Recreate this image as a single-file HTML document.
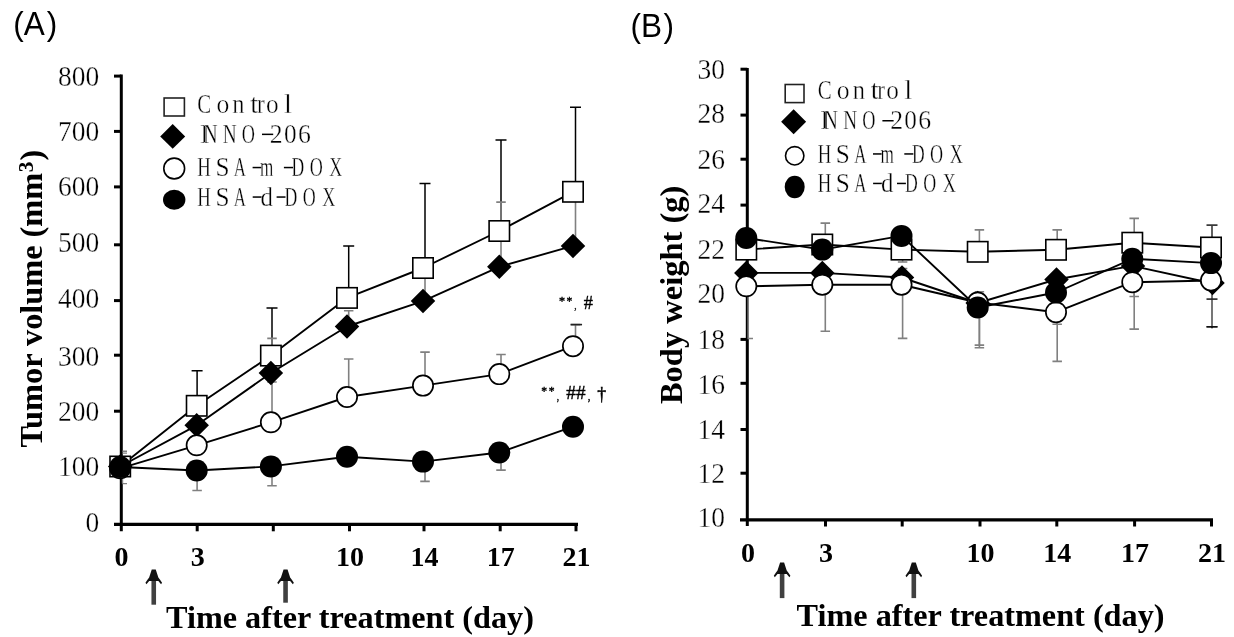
<!DOCTYPE html><html><head><meta charset="utf-8"><style>html,body{margin:0;padding:0;background:#fff;}svg{display:block;will-change:transform;}</style></head><body>
<svg width="1234" height="637" viewBox="0 0 1234 637">
<rect width="1234" height="637" fill="#fff"/>
<text transform="translate(13.2 34.5) scale(1 1.05)" font-family="'Liberation Sans', sans-serif" font-size="31.5" fill="#000">(A<tspan dx="2">)</tspan></text>
<text transform="translate(630.5 36.9) scale(1 1.05)" font-family="'Liberation Sans', sans-serif" font-size="31.5" fill="#000">(B<tspan dx="1.5">)</tspan></text>
<g stroke="#000" fill="none">
<path d="M121.3 74.6V531.3" stroke-width="3"/>
<path d="M114 524.4H578" stroke-width="3.2"/>
<path d="M114 466.5H121.3" stroke-width="3"/>
<path d="M114 411.2H121.3" stroke-width="3"/>
<path d="M114 355.2H121.3" stroke-width="3"/>
<path d="M114 300.6H121.3" stroke-width="3"/>
<path d="M114 244.8H121.3" stroke-width="3"/>
<path d="M114 186.9H121.3" stroke-width="3"/>
<path d="M114 131.4H121.3" stroke-width="3"/>
<path d="M114 76.1H121.3" stroke-width="3"/>
<path d="M197.2 524.4V531.3" stroke-width="3"/>
<path d="M273.3 524.4V531.3" stroke-width="3"/>
<path d="M349.5 524.4V531.3" stroke-width="3"/>
<path d="M424 524.4V531.3" stroke-width="3"/>
<path d="M500.2 524.4V531.3" stroke-width="3"/>
<path d="M576 524.4V531.3" stroke-width="3"/>
</g>
<text transform="translate(99.2 531.6) scale(1 1.055)" text-anchor="end" font-family="'Liberation Serif', serif" font-size="27.5" stroke="#fff" stroke-width="0.3">0</text>
<text transform="translate(99.2 476.3) scale(1 1.055)" text-anchor="end" font-family="'Liberation Serif', serif" font-size="27.5" stroke="#fff" stroke-width="0.3">100</text>
<text transform="translate(99.2 420.95) scale(1 1.055)" text-anchor="end" font-family="'Liberation Serif', serif" font-size="27.5" stroke="#fff" stroke-width="0.3">200</text>
<text transform="translate(99.2 365.5) scale(1 1.055)" text-anchor="end" font-family="'Liberation Serif', serif" font-size="27.5" stroke="#fff" stroke-width="0.3">300</text>
<text transform="translate(99.2 307.55) scale(1 1.055)" text-anchor="end" font-family="'Liberation Serif', serif" font-size="27.5" stroke="#fff" stroke-width="0.3">400</text>
<text transform="translate(99.2 252.25) scale(1 1.055)" text-anchor="end" font-family="'Liberation Serif', serif" font-size="27.5" stroke="#fff" stroke-width="0.3">500</text>
<text transform="translate(99.2 196.25) scale(1 1.055)" text-anchor="end" font-family="'Liberation Serif', serif" font-size="27.5" stroke="#fff" stroke-width="0.3">600</text>
<text transform="translate(99.2 141.4) scale(1 1.055)" text-anchor="end" font-family="'Liberation Serif', serif" font-size="27.5" stroke="#fff" stroke-width="0.3">700</text>
<text transform="translate(99.2 86.05) scale(1 1.055)" text-anchor="end" font-family="'Liberation Serif', serif" font-size="27.5" stroke="#fff" stroke-width="0.3">800</text>
<text x="121.5" y="565.8" text-anchor="middle" font-family="'Liberation Serif', serif" font-weight="bold" font-size="28">0</text>
<text x="197.7" y="565.8" text-anchor="middle" font-family="'Liberation Serif', serif" font-weight="bold" font-size="28">3</text>
<text x="350" y="565.8" text-anchor="middle" font-family="'Liberation Serif', serif" font-weight="bold" font-size="28">10</text>
<text x="424.5" y="565.8" text-anchor="middle" font-family="'Liberation Serif', serif" font-weight="bold" font-size="28">14</text>
<text x="500.7" y="565.8" text-anchor="middle" font-family="'Liberation Serif', serif" font-weight="bold" font-size="28">17</text>
<text x="576.5" y="565.8" text-anchor="middle" font-family="'Liberation Serif', serif" font-weight="bold" font-size="28">21</text>
<text transform="translate(166 628.2) scale(1.008 1)" font-family="'Liberation Serif', serif" font-weight="bold" font-size="32">Time after treatment (day)</text>
<text transform="translate(41.8 447.5) rotate(-90) scale(1.01 1)" font-family="'Liberation Serif', serif" font-weight="bold" font-size="32">Tumor volume (mm<tspan font-size="21" dy="-8.5" dx="0.6">3</tspan><tspan dy="8.5" dx="1.2">)</tspan></text>
<g stroke="#000" fill="none">
<path d="M747.3 68V526" stroke-width="3"/>
<path d="M740 519.8H1213" stroke-width="3.2"/>
<path d="M740.5 473.2H747.3" stroke-width="3"/>
<path d="M740.5 429.5H747.3" stroke-width="3"/>
<path d="M740.5 383.3H747.3" stroke-width="3"/>
<path d="M740.5 339.4H747.3" stroke-width="3"/>
<path d="M740.5 294.3H747.3" stroke-width="3"/>
<path d="M740.5 249.3H747.3" stroke-width="3"/>
<path d="M740.5 205.1H747.3" stroke-width="3"/>
<path d="M740.5 159.2H747.3" stroke-width="3"/>
<path d="M740.5 115.1H747.3" stroke-width="3"/>
<path d="M740.5 69.2H747.3" stroke-width="3"/>
<path d="M825.5 519.8V526.5" stroke-width="3"/>
<path d="M902.2 519.8V526.5" stroke-width="3"/>
<path d="M980 519.8V526.5" stroke-width="3"/>
<path d="M1056.8 519.8V526.5" stroke-width="3"/>
<path d="M1134.6 519.8V526.5" stroke-width="3"/>
<path d="M1211.5 519.8V526.5" stroke-width="3"/>
</g>
<text transform="translate(725 527.05) scale(1 1.055)" text-anchor="end" font-family="'Liberation Serif', serif" font-size="27.5" stroke="#fff" stroke-width="0.3">10</text>
<text transform="translate(725 483.45) scale(1 1.055)" text-anchor="end" font-family="'Liberation Serif', serif" font-size="27.5" stroke="#fff" stroke-width="0.3">12</text>
<text transform="translate(725 439.15) scale(1 1.055)" text-anchor="end" font-family="'Liberation Serif', serif" font-size="27.5" stroke="#fff" stroke-width="0.3">14</text>
<text transform="translate(725 393.65) scale(1 1.055)" text-anchor="end" font-family="'Liberation Serif', serif" font-size="27.5" stroke="#fff" stroke-width="0.3">16</text>
<text transform="translate(725 349.35) scale(1 1.055)" text-anchor="end" font-family="'Liberation Serif', serif" font-size="27.5" stroke="#fff" stroke-width="0.3">18</text>
<text transform="translate(725 303.3) scale(1 1.055)" text-anchor="end" font-family="'Liberation Serif', serif" font-size="27.5" stroke="#fff" stroke-width="0.3">20</text>
<text transform="translate(725 259.15) scale(1 1.055)" text-anchor="end" font-family="'Liberation Serif', serif" font-size="27.5" stroke="#fff" stroke-width="0.3">22</text>
<text transform="translate(725 213.05) scale(1 1.055)" text-anchor="end" font-family="'Liberation Serif', serif" font-size="27.5" stroke="#fff" stroke-width="0.3">24</text>
<text transform="translate(725 169.15) scale(1 1.055)" text-anchor="end" font-family="'Liberation Serif', serif" font-size="27.5" stroke="#fff" stroke-width="0.3">26</text>
<text transform="translate(725 123.05) scale(1 1.055)" text-anchor="end" font-family="'Liberation Serif', serif" font-size="27.5" stroke="#fff" stroke-width="0.3">28</text>
<text transform="translate(725 79.05) scale(1 1.055)" text-anchor="end" font-family="'Liberation Serif', serif" font-size="27.5" stroke="#fff" stroke-width="0.3">30</text>
<text x="747.9" y="561.5" text-anchor="middle" font-family="'Liberation Serif', serif" font-weight="bold" font-size="28">0</text>
<text x="826" y="561.5" text-anchor="middle" font-family="'Liberation Serif', serif" font-weight="bold" font-size="28">3</text>
<text x="980.5" y="561.5" text-anchor="middle" font-family="'Liberation Serif', serif" font-weight="bold" font-size="28">10</text>
<text x="1057.3" y="561.5" text-anchor="middle" font-family="'Liberation Serif', serif" font-weight="bold" font-size="28">14</text>
<text x="1135.1" y="561.5" text-anchor="middle" font-family="'Liberation Serif', serif" font-weight="bold" font-size="28">17</text>
<text x="1212" y="561.5" text-anchor="middle" font-family="'Liberation Serif', serif" font-weight="bold" font-size="28">21</text>
<text transform="translate(796.6 625.9) scale(1.008 1)" font-family="'Liberation Serif', serif" font-weight="bold" font-size="32">Time after treatment (day)</text>
<text transform="translate(682.2 404.1) rotate(-90) scale(1.016 1)" font-family="'Liberation Serif', serif" font-weight="bold" font-size="32">Body weight (g)</text>
<rect x="151.45" y="579" width="4.6" height="25.7" fill="#404040"/><path d="M151.75 569.5L155.75 569.5L158.35 577.5L160.05 579.8L162.05 582.8L161.05 584.2L158.35 581L149.15 581L146.45 584.2L145.45 582.8L147.45 579.8L149.15 577.5Z" fill="#111"/>
<rect x="283.25" y="579" width="4.6" height="23.7" fill="#404040"/><path d="M283.55 569.5L287.55 569.5L290.15 577.5L291.85 579.8L293.85 582.8L292.85 584.2L290.15 581L280.95 581L278.25 584.2L277.25 582.8L279.25 579.8L280.95 577.5Z" fill="#111"/>
<rect x="779.8" y="572" width="4.6" height="26.1" fill="#404040"/><path d="M780.1 562.5L784.1 562.5L786.7 570.5L788.4 572.8L790.4 575.8L789.4 577.2L786.7 574L777.5 574L774.8 577.2L773.8 575.8L775.8 572.8L777.5 570.5Z" fill="#111"/>
<rect x="911.5" y="572" width="4.6" height="26.1" fill="#404040"/><path d="M911.8 562.5L915.8 562.5L918.4 570.5L920.1 572.8L922.1 575.8L921.1 577.2L918.4 574L909.2 574L906.5 577.2L905.5 575.8L907.5 572.8L909.2 570.5Z" fill="#111"/>
<path d="M197.1 405.8V370.7M191.6 370.7H202.6" stroke="#000" stroke-width="1.5" fill="none"/>
<path d="M272 355.6V308.1M266.5 308.1H277.5" stroke="#000" stroke-width="1.5" fill="none"/>
<path d="M348.7 297.9V246.1M343.2 246.1H354.2" stroke="#000" stroke-width="1.5" fill="none"/>
<path d="M425 268V183.5M419.5 183.5H430.5" stroke="#000" stroke-width="1.5" fill="none"/>
<path d="M501 231V139.9M495.5 139.9H506.5" stroke="#000" stroke-width="1.5" fill="none"/>
<path d="M575.5 191.8V107.3M570 107.3H581" stroke="#000" stroke-width="1.5" fill="none"/>
<path d="M122.5 451.3H127M122.5 453.1H127M122.5 483.6H127M122.5 479V483.6" stroke="#808080" stroke-width="1.4" fill="none"/>
<path d="M272 373V338.4M267.25 338.4H276.75" stroke="#808080" stroke-width="1.6" fill="none"/>
<path d="M348.7 326.5V310.7M343.95 310.7H353.45" stroke="#808080" stroke-width="1.6" fill="none"/>
<path d="M425 301.1V275M420.25 275H429.75" stroke="#808080" stroke-width="1.6" fill="none"/>
<path d="M501 266.8V202.1M496.25 202.1H505.75" stroke="#808080" stroke-width="1.6" fill="none"/>
<path d="M575.5 245.9V200M570.75 200H580.25" stroke="#808080" stroke-width="1.6" fill="none"/>
<path d="M272 422.3V382M267.25 382H276.75" stroke="#808080" stroke-width="1.6" fill="none"/>
<path d="M348.7 397V359M343.95 359H353.45" stroke="#808080" stroke-width="1.6" fill="none"/>
<path d="M425 385.6V352.1M420.25 352.1H429.75" stroke="#808080" stroke-width="1.6" fill="none"/>
<path d="M501 374.1V354.5M496.25 354.5H505.75" stroke="#808080" stroke-width="1.6" fill="none"/>
<path d="M575.5 346.2V324.6M570.75 324.6H580.25" stroke="#808080" stroke-width="1.6" fill="none"/>
<path d="M576.3 324.6V324.6M570.55 324.6H582.05" stroke="#222" stroke-width="1.6" fill="none"/>
<path d="M197.1 470.5V490.5M192.35 490.5H201.85" stroke="#808080" stroke-width="1.6" fill="none"/>
<path d="M272 466.4V485.8M267.25 485.8H276.75" stroke="#808080" stroke-width="1.6" fill="none"/>
<path d="M425 461.6V481.4M420.25 481.4H429.75" stroke="#808080" stroke-width="1.6" fill="none"/>
<path d="M501 452.5V470.1M496.25 470.1H505.75" stroke="#808080" stroke-width="1.6" fill="none"/>
<polyline points="120.2,466.5 196.7,405.8 270.9,355.6 347,297.9 423,268 499.3,231 573,191.8" fill="none" stroke="#000" stroke-width="1.9" stroke-linejoin="round"/>
<rect x="110" y="456.3" width="20.4" height="20.4" fill="#fff" stroke="#000" stroke-width="1.6"/>
<rect x="186.5" y="395.6" width="20.4" height="20.4" fill="#fff" stroke="#000" stroke-width="1.6"/>
<rect x="260.7" y="345.4" width="20.4" height="20.4" fill="#fff" stroke="#000" stroke-width="1.6"/>
<rect x="336.8" y="287.7" width="20.4" height="20.4" fill="#fff" stroke="#000" stroke-width="1.6"/>
<rect x="412.8" y="257.8" width="20.4" height="20.4" fill="#fff" stroke="#000" stroke-width="1.6"/>
<rect x="489.1" y="220.8" width="20.4" height="20.4" fill="#fff" stroke="#000" stroke-width="1.6"/>
<rect x="562.8" y="181.6" width="20.4" height="20.4" fill="#fff" stroke="#000" stroke-width="1.6"/>
<polyline points="120.2,466.5 196.7,425.3 270.9,373 347,326.5 423,301.1 499.3,266.8 573,245.9" fill="none" stroke="#000" stroke-width="1.9" stroke-linejoin="round"/>
<path d="M120.2 454.25L132.45 466.5L120.2 478.75L107.95 466.5Z" fill="#000"/>
<path d="M196.7 413.05L208.95 425.3L196.7 437.55L184.45 425.3Z" fill="#000"/>
<path d="M270.9 360.75L283.15 373L270.9 385.25L258.65 373Z" fill="#000"/>
<path d="M347 314.25L359.25 326.5L347 338.75L334.75 326.5Z" fill="#000"/>
<path d="M423 288.85L435.25 301.1L423 313.35L410.75 301.1Z" fill="#000"/>
<path d="M499.3 254.55L511.55 266.8L499.3 279.05L487.05 266.8Z" fill="#000"/>
<path d="M573 233.65L585.25 245.9L573 258.15L560.75 245.9Z" fill="#000"/>
<polyline points="120.2,468.3 196.7,445.3 270.9,422.3 347,397 423,385.6 499.3,374.1 573,346.2" fill="none" stroke="#000" stroke-width="1.9" stroke-linejoin="round"/>
<circle cx="120.2" cy="468.3" r="10.15" fill="#fff" stroke="#000" stroke-width="1.7"/>
<circle cx="196.7" cy="445.3" r="10.15" fill="#fff" stroke="#000" stroke-width="1.7"/>
<circle cx="270.9" cy="422.3" r="10.15" fill="#fff" stroke="#000" stroke-width="1.7"/>
<circle cx="347" cy="397" r="10.15" fill="#fff" stroke="#000" stroke-width="1.7"/>
<circle cx="423" cy="385.6" r="10.15" fill="#fff" stroke="#000" stroke-width="1.7"/>
<circle cx="499.3" cy="374.1" r="10.15" fill="#fff" stroke="#000" stroke-width="1.7"/>
<circle cx="573" cy="346.2" r="10.15" fill="#fff" stroke="#000" stroke-width="1.7"/>
<polyline points="120.2,467 196.7,470.5 270.9,466.4 347,456.8 423,461.6 499.3,452.5 573,426.7" fill="none" stroke="#000" stroke-width="1.9" stroke-linejoin="round"/>
<circle cx="120.2" cy="467" r="11" fill="#000"/>
<circle cx="196.7" cy="470.5" r="11" fill="#000"/>
<circle cx="270.9" cy="466.4" r="11" fill="#000"/>
<circle cx="347" cy="456.8" r="11" fill="#000"/>
<circle cx="423" cy="461.6" r="11" fill="#000"/>
<circle cx="499.3" cy="452.5" r="11" fill="#000"/>
<circle cx="573" cy="426.7" r="11" fill="#000"/>
<text transform="translate(558.91 305.09) scale(0.675 0.712)" font-family="'Liberation Serif', serif" font-size="18" stroke="#000" stroke-width="0.6">*</text>
<text transform="translate(566.43 305.09) scale(0.647 0.712)" font-family="'Liberation Serif', serif" font-size="18" stroke="#000" stroke-width="0.6">*</text>
<text transform="translate(574.24 309.46) scale(0.522 0.627)" font-family="'Liberation Serif', serif" font-size="18" stroke="#000" stroke-width="0.5">,</text>
<text transform="translate(583.87 309.40) scale(1.018 1.061)" font-family="'Liberation Serif', serif" font-size="18" stroke="#000" stroke-width="0.35">#</text>
<text transform="translate(541.33 395.09) scale(0.647 0.712)" font-family="'Liberation Serif', serif" font-size="18" stroke="#000" stroke-width="0.6">*</text>
<text transform="translate(548.63 395.09) scale(0.647 0.712)" font-family="'Liberation Serif', serif" font-size="18" stroke="#000" stroke-width="0.6">*</text>
<text transform="translate(556.64 399.60) scale(0.522 0.649)" font-family="'Liberation Serif', serif" font-size="18" stroke="#000" stroke-width="0.5">,</text>
<text transform="translate(566.25 399.40) scale(1.066 1.078)" font-family="'Liberation Serif', serif" font-size="18" stroke="#000" stroke-width="0.35">#</text>
<text transform="translate(576.05 399.40) scale(1.066 1.078)" font-family="'Liberation Serif', serif" font-size="18" stroke="#000" stroke-width="0.35">#</text>
<text transform="translate(587.79 399.60) scale(0.597 0.649)" font-family="'Liberation Serif', serif" font-size="18" stroke="#000" stroke-width="0.5">,</text>
<text transform="translate(597.15 400.13) scale(0.988 1.027)" font-family="'Liberation Serif', serif" font-size="18" stroke="#000" stroke-width="0.5">†</text>
<path d="M825.3 244.5V223.1M820.55 223.1H830.05" stroke="#808080" stroke-width="1.6" fill="none"/>
<path d="M979.4 251.8V229.9M974.65 229.9H984.15" stroke="#808080" stroke-width="1.6" fill="none"/>
<path d="M1057.2 249.8V229.9M1052.45 229.9H1061.95" stroke="#808080" stroke-width="1.6" fill="none"/>
<path d="M1134.2 242.7V218.4M1129.45 218.4H1138.95" stroke="#808080" stroke-width="1.6" fill="none"/>
<path d="M825.3 284.7V331.3M820.55 331.3H830.05" stroke="#808080" stroke-width="1.6" fill="none"/>
<path d="M902.6 284.7V338.4M897.85 338.4H907.35" stroke="#808080" stroke-width="1.6" fill="none"/>
<path d="M979.4 302.5V345.1M974.65 345.1H984.15" stroke="#808080" stroke-width="1.6" fill="none"/>
<path d="M1057.2 312.2V361.4M1052.45 361.4H1061.95" stroke="#808080" stroke-width="1.6" fill="none"/>
<path d="M1134.2 282.2V329.1M1129.45 329.1H1138.95" stroke="#808080" stroke-width="1.6" fill="none"/>
<path d="M979.4 307.5V347.8M974.65 347.8H984.15" stroke="#808080" stroke-width="1.6" fill="none"/>
<path d="M1057.2 292.5V324.3M1052.45 324.3H1061.95" stroke="#808080" stroke-width="1.6" fill="none"/>
<path d="M1134.2 258.8V296.5M1129.45 296.5H1138.95" stroke="#808080" stroke-width="1.6" fill="none"/>
<path d="M902.6 235.9V262M897.85 262H907.35" stroke="#808080" stroke-width="1.6" fill="none"/>
<path d="M902.6 277.5V268.5M897.85 268.5H907.35" stroke="#808080" stroke-width="1.6" fill="none"/>
<path d="M979.4 302.5V291.8M974.65 291.8H984.15" stroke="#808080" stroke-width="1.6" fill="none"/>
<path d="M1212 247.5V225.1M1206.5 225.1H1217.5" stroke="#3a3a3a" stroke-width="1.6" fill="none"/>
<path d="M1212 280.5V326.8M1206.5 326.8H1217.5" stroke="#555" stroke-width="1.6" fill="none"/>
<path d="M1212 299.1V299.1M1206.5 299.1H1217.5" stroke="#222" stroke-width="1.6" fill="none"/>
<path d="M1212 326.8V326.8M1206.5 326.8H1217.5" stroke="#111" stroke-width="1.6" fill="none"/>
<path d="M1212 326.8V328.3M1211.95 328.3H1212.05" stroke="#111" stroke-width="1.6" fill="none"/>
<path d="M748.2 286.3V338.5H753" stroke="#808080" stroke-width="1.6" fill="none"/>
<polyline points="746.3,249.6 822.3,244.5 901.5,249.6 977.7,251.8 1056,249.8 1132.3,242.7 1211,247.5" fill="none" stroke="#000" stroke-width="1.9" stroke-linejoin="round"/>
<rect x="736.1" y="239.4" width="20.4" height="20.4" fill="#fff" stroke="#000" stroke-width="1.6"/>
<rect x="812.1" y="234.3" width="20.4" height="20.4" fill="#fff" stroke="#000" stroke-width="1.6"/>
<rect x="891.3" y="239.4" width="20.4" height="20.4" fill="#fff" stroke="#000" stroke-width="1.6"/>
<rect x="967.5" y="241.6" width="20.4" height="20.4" fill="#fff" stroke="#000" stroke-width="1.6"/>
<rect x="1045.8" y="239.6" width="20.4" height="20.4" fill="#fff" stroke="#000" stroke-width="1.6"/>
<rect x="1122.1" y="232.5" width="20.4" height="20.4" fill="#fff" stroke="#000" stroke-width="1.6"/>
<rect x="1200.8" y="237.3" width="20.4" height="20.4" fill="#fff" stroke="#000" stroke-width="1.6"/>
<polyline points="746.3,272.9 822.3,272.9 901.5,277.5 977.7,303 1056,279.5 1132.3,265.9 1211,283" fill="none" stroke="#000" stroke-width="1.9" stroke-linejoin="round"/>
<path d="M746.3 260.65L758.55 272.9L746.3 285.15L734.05 272.9Z" fill="#000"/>
<path d="M822.3 260.65L834.55 272.9L822.3 285.15L810.05 272.9Z" fill="#000"/>
<path d="M902 265.25L914.25 277.5L902 289.75L889.75 277.5Z" fill="#000"/>
<path d="M977.7 290.75L989.95 303L977.7 315.25L965.45 303Z" fill="#000"/>
<path d="M1056.5 267.25L1068.75 279.5L1056.5 291.75L1044.25 279.5Z" fill="#000"/>
<path d="M1133 253.65L1145.25 265.9L1133 278.15L1120.75 265.9Z" fill="#000"/>
<path d="M1212.5 270.75L1224.75 283L1212.5 295.25L1200.25 283Z" fill="#000"/>
<polyline points="746.3,286.3 822.3,284.7 901.5,284.7 977.7,302.5 1056,312.2 1132.3,282.2 1211,280.5" fill="none" stroke="#000" stroke-width="1.9" stroke-linejoin="round"/>
<circle cx="746.3" cy="286.3" r="10.15" fill="#fff" stroke="#000" stroke-width="1.7"/>
<circle cx="822.3" cy="284.7" r="10.15" fill="#fff" stroke="#000" stroke-width="1.7"/>
<circle cx="901.5" cy="284.7" r="10.15" fill="#fff" stroke="#000" stroke-width="1.7"/>
<circle cx="977.7" cy="302.5" r="10.15" fill="#fff" stroke="#000" stroke-width="1.7"/>
<circle cx="1056" cy="312.2" r="10.15" fill="#fff" stroke="#000" stroke-width="1.7"/>
<circle cx="1132.3" cy="282.2" r="10.15" fill="#fff" stroke="#000" stroke-width="1.7"/>
<circle cx="1211" cy="280.5" r="10.15" fill="#fff" stroke="#000" stroke-width="1.7"/>
<polyline points="746.3,238 822.3,249.6 901.5,235.9 977.7,307.5 1056,292.5 1132.3,258.8 1211,263.1" fill="none" stroke="#000" stroke-width="1.9" stroke-linejoin="round"/>
<circle cx="746.3" cy="238" r="11" fill="#000"/>
<circle cx="822.3" cy="249.6" r="11" fill="#000"/>
<circle cx="901.5" cy="235.9" r="11" fill="#000"/>
<circle cx="977.7" cy="307.5" r="11" fill="#000"/>
<circle cx="1056" cy="292.5" r="11" fill="#000"/>
<circle cx="1132.3" cy="258.8" r="11" fill="#000"/>
<circle cx="1211" cy="263.1" r="11" fill="#000"/>
<rect x="164.1" y="98" width="20.3" height="18" fill="#fff" stroke="#222" stroke-width="1.6"/><path d="M172.7 124.1L185.2 136.5L172.7 148.8L160.2 136.5Z" fill="#000"/><ellipse cx="174.2" cy="168.5" rx="10.4" ry="10.4" fill="#fff" stroke="#000" stroke-width="1.6"/><ellipse cx="174.2" cy="199.7" rx="11.2" ry="10" fill="#000"/><text transform="translate(197.34 113) scale(0.787 1)" font-family="'Liberation Serif', serif" font-size="26.5" stroke="#fff" stroke-width="0.35">C</text><text transform="translate(216.42 113) scale(0.970 1)" font-family="'Liberation Serif', serif" font-size="26.5" stroke="#fff" stroke-width="0.35">o</text><text transform="translate(232.24 113) scale(0.923 1)" font-family="'Liberation Serif', serif" font-size="26.5" stroke="#fff" stroke-width="0.35">n</text><text transform="translate(250.32 113) scale(1.080 1)" font-family="'Liberation Serif', serif" font-size="26.5" stroke="#fff" stroke-width="0.35">t</text><text transform="translate(256.94 113) scale(0.868 1)" font-family="'Liberation Serif', serif" font-size="26.5" stroke="#fff" stroke-width="0.35">r</text><text transform="translate(265.94 113) scale(0.953 1)" font-family="'Liberation Serif', serif" font-size="26.5" stroke="#fff" stroke-width="0.35">o</text><text transform="translate(283.92 113) scale(1.080 1)" font-family="'Liberation Serif', serif" font-size="26.5" stroke="#fff" stroke-width="0.35">l</text><text transform="translate(199.72 143) scale(1.080 1)" font-family="'Liberation Serif', serif" font-size="26.5" stroke="#fff" stroke-width="0.35">I</text><text transform="translate(203.44 143) scale(0.737 1)" font-family="'Liberation Serif', serif" font-size="26.5" stroke="#fff" stroke-width="0.35">N</text><text transform="translate(222.85 143) scale(0.726 1)" font-family="'Liberation Serif', serif" font-size="26.5" stroke="#fff" stroke-width="0.35">N</text><text transform="translate(241.85 143) scale(0.690 1)" font-family="'Liberation Serif', serif" font-size="26.5" stroke="#fff" stroke-width="0.35">O</text><rect x="262" y="133.6" width="11.2" height="1.5" fill="#000"/><text transform="translate(269.87 143) scale(0.970 1)" font-family="'Liberation Serif', serif" font-size="26.5" stroke="#fff" stroke-width="0.35">2</text><text transform="translate(283.94 143) scale(0.953 1)" font-family="'Liberation Serif', serif" font-size="26.5" stroke="#fff" stroke-width="0.35">0</text><text transform="translate(297.89 143) scale(0.972 1)" font-family="'Liberation Serif', serif" font-size="26.5" stroke="#fff" stroke-width="0.35">6</text><text transform="translate(197.26 176.2) scale(0.710 1)" font-family="'Liberation Serif', serif" font-size="26.5" stroke="#fff" stroke-width="0.35">H</text><text transform="translate(215.41 176.2) scale(0.954 1)" font-family="'Liberation Serif', serif" font-size="26.5" stroke="#fff" stroke-width="0.35">S</text><text transform="translate(233.74 176.2) scale(0.637 1)" font-family="'Liberation Serif', serif" font-size="26.5" stroke="#fff" stroke-width="0.35">A</text><rect x="252.6" y="166.8" width="8.9" height="1.5" fill="#000"/><text transform="translate(260.04 176.2) scale(0.647 1)" font-family="'Liberation Serif', serif" font-size="26.5" stroke="#fff" stroke-width="0.35">m</text><rect x="283.9" y="166.8" width="9.1" height="1.5" fill="#000"/><text transform="translate(291.49 176.2) scale(0.664 1)" font-family="'Liberation Serif', serif" font-size="26.5" stroke="#fff" stroke-width="0.35">D</text><text transform="translate(309.66 176.2) scale(0.684 1)" font-family="'Liberation Serif', serif" font-size="26.5" stroke="#fff" stroke-width="0.35">O</text><text transform="translate(329.3 176.2) scale(0.680 1)" font-family="'Liberation Serif', serif" font-size="26.5" stroke="#fff" stroke-width="0.35">X</text><text transform="translate(197.26 205.7) scale(0.710 1)" font-family="'Liberation Serif', serif" font-size="26.5" stroke="#fff" stroke-width="0.35">H</text><text transform="translate(215.41 205.7) scale(0.954 1)" font-family="'Liberation Serif', serif" font-size="26.5" stroke="#fff" stroke-width="0.35">S</text><text transform="translate(233.74 205.7) scale(0.637 1)" font-family="'Liberation Serif', serif" font-size="26.5" stroke="#fff" stroke-width="0.35">A</text><rect x="252.7" y="196.3" width="9.3" height="1.5" fill="#000"/><text transform="translate(260.6 205.7) scale(0.936 1)" font-family="'Liberation Serif', serif" font-size="26.5" stroke="#fff" stroke-width="0.35">d</text><rect x="276.6" y="196.3" width="8.9" height="1.5" fill="#000"/><text transform="translate(284.49 205.7) scale(0.670 1)" font-family="'Liberation Serif', serif" font-size="26.5" stroke="#fff" stroke-width="0.35">D</text><text transform="translate(302.76 205.7) scale(0.678 1)" font-family="'Liberation Serif', serif" font-size="26.5" stroke="#fff" stroke-width="0.35">O</text><text transform="translate(322.3 205.7) scale(0.686 1)" font-family="'Liberation Serif', serif" font-size="26.5" stroke="#fff" stroke-width="0.35">X</text>
<rect x="785.2" y="84.5" width="18.8" height="18.1" fill="#fff" stroke="#222" stroke-width="1.6"/><path d="M793.6 109.2L806.1 121.7L793.6 134.2L781.1 121.7Z" fill="#000"/><ellipse cx="794.7" cy="155.8" rx="9.2" ry="9.2" fill="#fff" stroke="#000" stroke-width="1.6"/><ellipse cx="794.7" cy="187" rx="10" ry="11.15" fill="#000"/><text transform="translate(817.74 99.4) scale(0.787 1)" font-family="'Liberation Serif', serif" font-size="26.5" stroke="#fff" stroke-width="0.35">C</text><text transform="translate(836.82 99.4) scale(0.970 1)" font-family="'Liberation Serif', serif" font-size="26.5" stroke="#fff" stroke-width="0.35">o</text><text transform="translate(852.64 99.4) scale(0.923 1)" font-family="'Liberation Serif', serif" font-size="26.5" stroke="#fff" stroke-width="0.35">n</text><text transform="translate(870.72 99.4) scale(1.080 1)" font-family="'Liberation Serif', serif" font-size="26.5" stroke="#fff" stroke-width="0.35">t</text><text transform="translate(877.34 99.4) scale(0.868 1)" font-family="'Liberation Serif', serif" font-size="26.5" stroke="#fff" stroke-width="0.35">r</text><text transform="translate(886.34 99.4) scale(0.953 1)" font-family="'Liberation Serif', serif" font-size="26.5" stroke="#fff" stroke-width="0.35">o</text><text transform="translate(904.32 99.4) scale(1.080 1)" font-family="'Liberation Serif', serif" font-size="26.5" stroke="#fff" stroke-width="0.35">l</text><text transform="translate(820.12 129.4) scale(1.080 1)" font-family="'Liberation Serif', serif" font-size="26.5" stroke="#fff" stroke-width="0.35">I</text><text transform="translate(823.84 129.4) scale(0.737 1)" font-family="'Liberation Serif', serif" font-size="26.5" stroke="#fff" stroke-width="0.35">N</text><text transform="translate(843.25 129.4) scale(0.726 1)" font-family="'Liberation Serif', serif" font-size="26.5" stroke="#fff" stroke-width="0.35">N</text><text transform="translate(862.25 129.4) scale(0.690 1)" font-family="'Liberation Serif', serif" font-size="26.5" stroke="#fff" stroke-width="0.35">O</text><rect x="882.4" y="120" width="11.2" height="1.5" fill="#000"/><text transform="translate(890.27 129.4) scale(0.970 1)" font-family="'Liberation Serif', serif" font-size="26.5" stroke="#fff" stroke-width="0.35">2</text><text transform="translate(904.34 129.4) scale(0.953 1)" font-family="'Liberation Serif', serif" font-size="26.5" stroke="#fff" stroke-width="0.35">0</text><text transform="translate(918.29 129.4) scale(0.972 1)" font-family="'Liberation Serif', serif" font-size="26.5" stroke="#fff" stroke-width="0.35">6</text><text transform="translate(817.66 162.6) scale(0.710 1)" font-family="'Liberation Serif', serif" font-size="26.5" stroke="#fff" stroke-width="0.35">H</text><text transform="translate(835.81 162.6) scale(0.954 1)" font-family="'Liberation Serif', serif" font-size="26.5" stroke="#fff" stroke-width="0.35">S</text><text transform="translate(854.14 162.6) scale(0.637 1)" font-family="'Liberation Serif', serif" font-size="26.5" stroke="#fff" stroke-width="0.35">A</text><rect x="873" y="153.2" width="8.9" height="1.5" fill="#000"/><text transform="translate(880.44 162.6) scale(0.647 1)" font-family="'Liberation Serif', serif" font-size="26.5" stroke="#fff" stroke-width="0.35">m</text><rect x="904.3" y="153.2" width="9.1" height="1.5" fill="#000"/><text transform="translate(911.89 162.6) scale(0.664 1)" font-family="'Liberation Serif', serif" font-size="26.5" stroke="#fff" stroke-width="0.35">D</text><text transform="translate(930.06 162.6) scale(0.684 1)" font-family="'Liberation Serif', serif" font-size="26.5" stroke="#fff" stroke-width="0.35">O</text><text transform="translate(949.7 162.6) scale(0.680 1)" font-family="'Liberation Serif', serif" font-size="26.5" stroke="#fff" stroke-width="0.35">X</text><text transform="translate(817.66 192.1) scale(0.710 1)" font-family="'Liberation Serif', serif" font-size="26.5" stroke="#fff" stroke-width="0.35">H</text><text transform="translate(835.81 192.1) scale(0.954 1)" font-family="'Liberation Serif', serif" font-size="26.5" stroke="#fff" stroke-width="0.35">S</text><text transform="translate(854.14 192.1) scale(0.637 1)" font-family="'Liberation Serif', serif" font-size="26.5" stroke="#fff" stroke-width="0.35">A</text><rect x="873.1" y="182.7" width="9.3" height="1.5" fill="#000"/><text transform="translate(881 192.1) scale(0.936 1)" font-family="'Liberation Serif', serif" font-size="26.5" stroke="#fff" stroke-width="0.35">d</text><rect x="897" y="182.7" width="8.9" height="1.5" fill="#000"/><text transform="translate(904.89 192.1) scale(0.670 1)" font-family="'Liberation Serif', serif" font-size="26.5" stroke="#fff" stroke-width="0.35">D</text><text transform="translate(923.16 192.1) scale(0.678 1)" font-family="'Liberation Serif', serif" font-size="26.5" stroke="#fff" stroke-width="0.35">O</text><text transform="translate(942.7 192.1) scale(0.686 1)" font-family="'Liberation Serif', serif" font-size="26.5" stroke="#fff" stroke-width="0.35">X</text>
</svg></body></html>
